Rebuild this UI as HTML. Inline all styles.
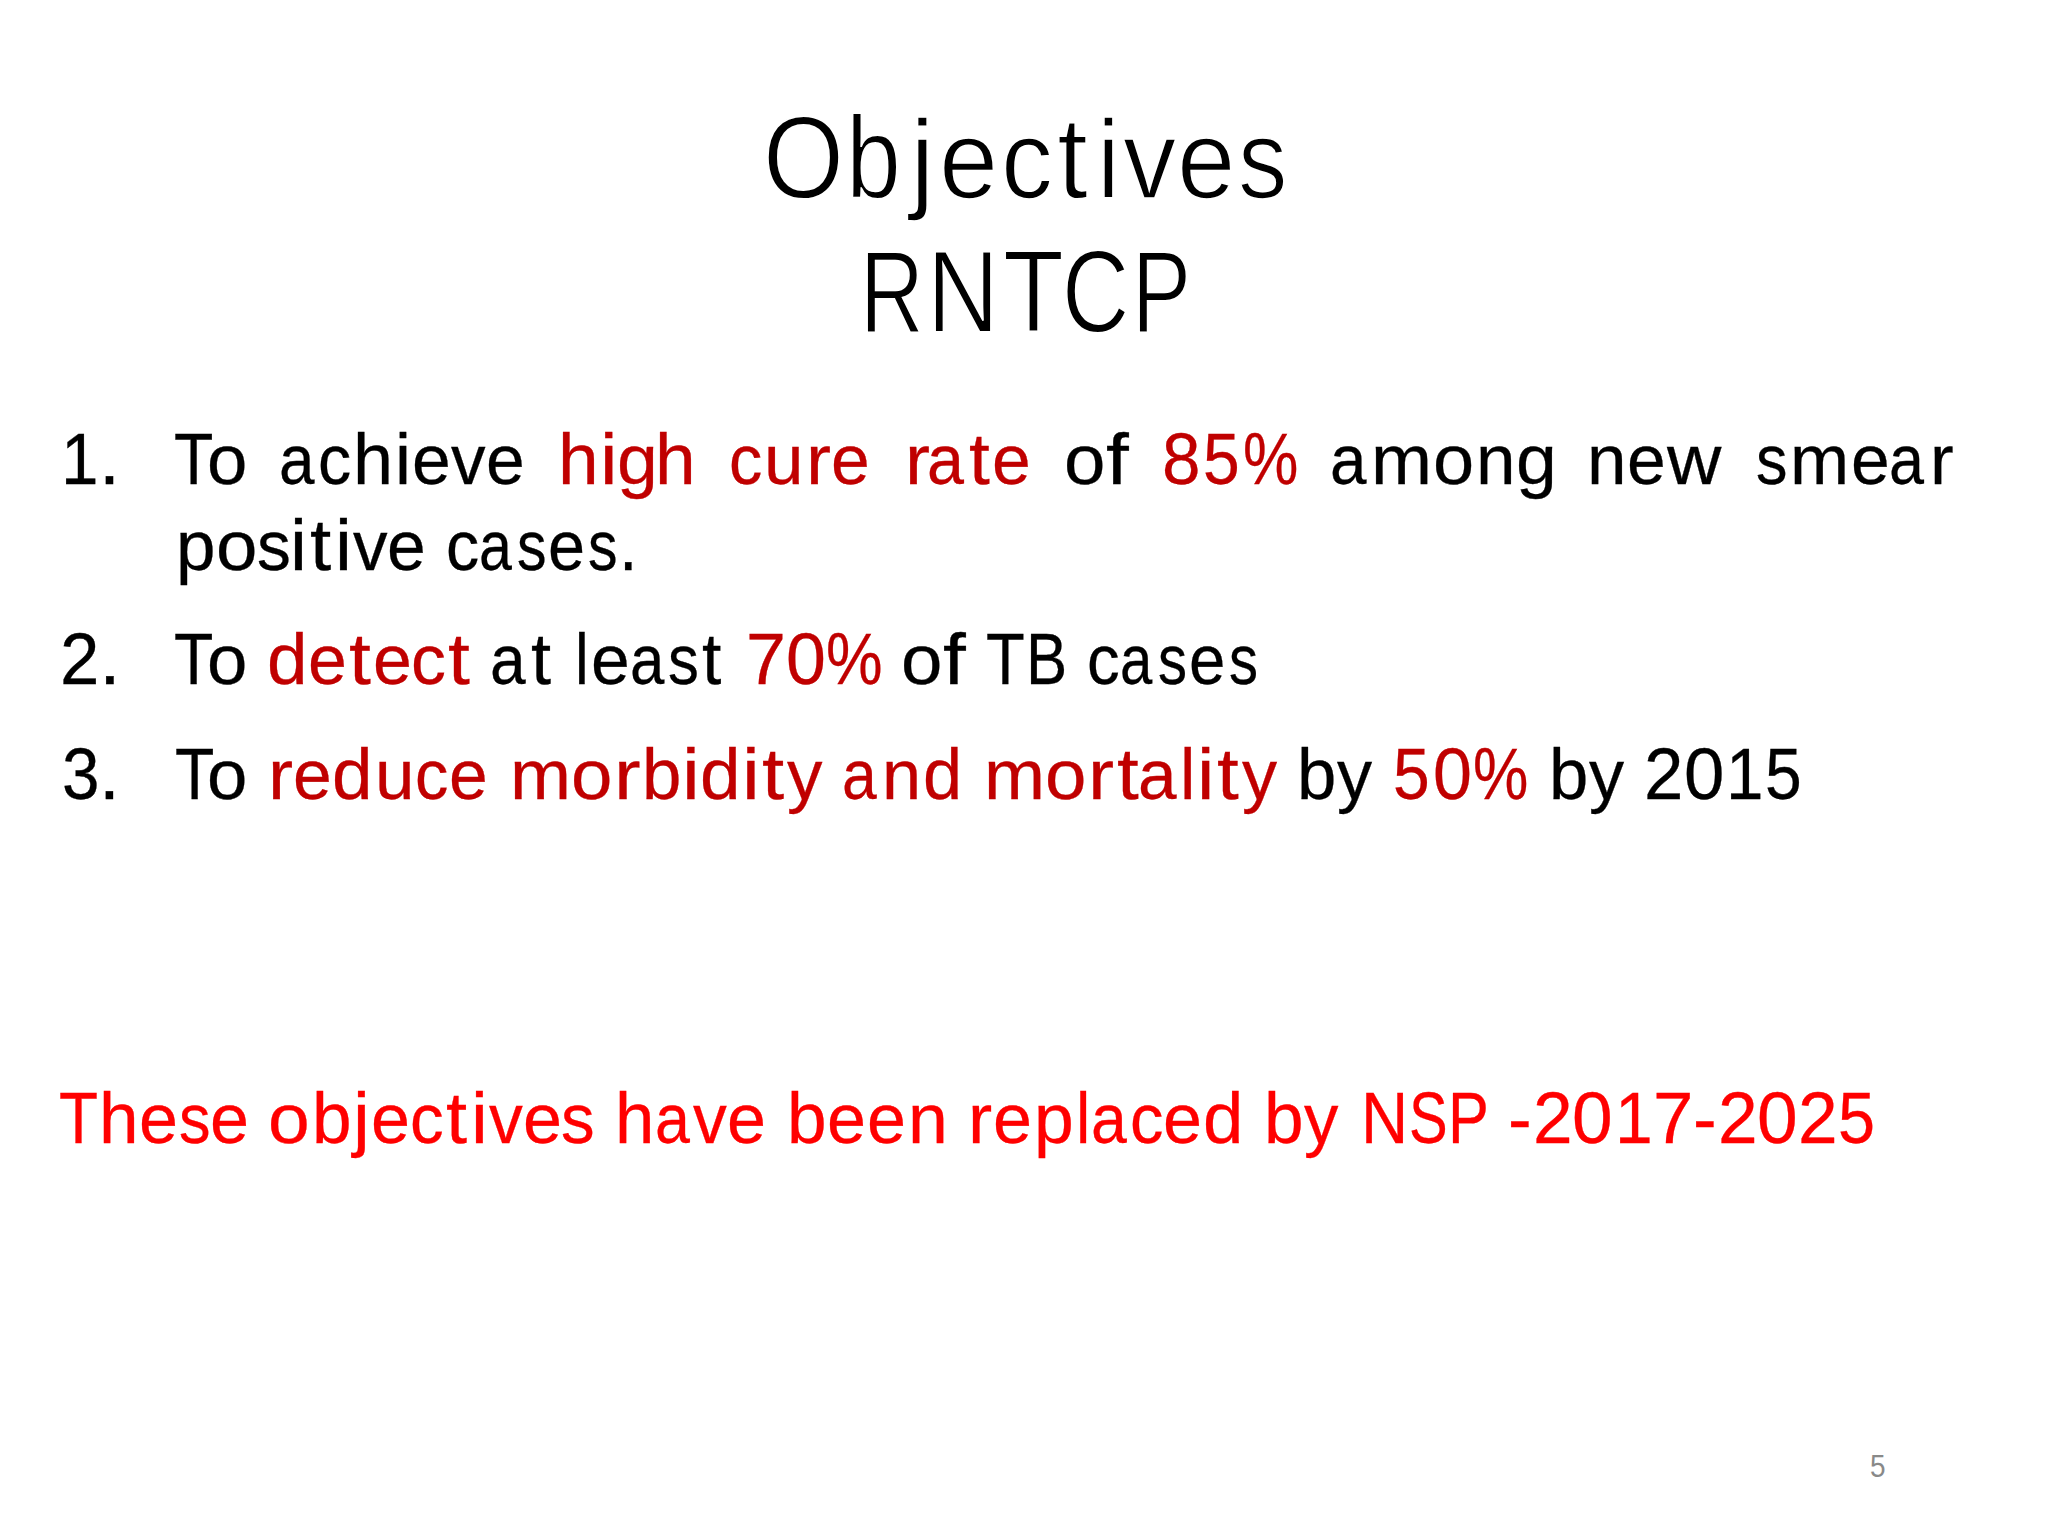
<!DOCTYPE html>
<html><head><meta charset="utf-8"><style>
html,body{margin:0;padding:0;background:#fff;width:2048px;height:1536px;overflow:hidden;}
body{position:relative;font-family:"Liberation Sans",sans-serif;}
span{position:absolute;white-space:pre;transform-origin:0 0;}
</style></head><body>
<span style="left:762.62px;top:99.79px;font-size:116px;line-height:116px;color:#000000;transform:scaleX(0.8974);-webkit-text-stroke:1.8px #fff;">O</span>
<span style="left:845.72px;top:99.79px;font-size:116px;line-height:116px;color:#000000;transform:scaleX(0.8517);-webkit-text-stroke:1.8px #fff;">b</span>
<span style="left:910.05px;top:99.79px;font-size:116px;line-height:116px;color:#000000;transform:scale(0.9605,0.9520);transform-origin:0 98.21px;-webkit-text-stroke:1.8px #fff;">j</span>
<span style="left:938.50px;top:99.79px;font-size:116px;line-height:116px;color:#000000;transform:scale(0.9170,0.9520);transform-origin:0 98.21px;-webkit-text-stroke:1.8px #fff;">e</span>
<span style="left:1000.62px;top:99.79px;font-size:116px;line-height:116px;color:#000000;transform:scale(0.8958,0.9520);transform-origin:0 98.21px;-webkit-text-stroke:1.8px #fff;">c</span>
<span style="left:1057.15px;top:99.79px;font-size:116px;line-height:116px;color:#000000;transform:scaleX(0.9605);-webkit-text-stroke:1.8px #fff;">t</span>
<span style="left:1097.49px;top:99.79px;font-size:116px;line-height:116px;color:#000000;transform:scale(0.8889,0.9520);transform-origin:0 98.21px;-webkit-text-stroke:1.8px #fff;">i</span>
<span style="left:1123.17px;top:99.79px;font-size:116px;line-height:116px;color:#000000;transform:scale(0.9167,0.9520);transform-origin:0 98.21px;-webkit-text-stroke:1.8px #fff;">v</span>
<span style="left:1176.57px;top:99.79px;font-size:116px;line-height:116px;color:#000000;transform:scale(0.9057,0.9520);transform-origin:0 98.21px;-webkit-text-stroke:1.8px #fff;">e</span>
<span style="left:1237.58px;top:99.79px;font-size:116px;line-height:116px;color:#000000;transform:scale(0.8517,0.9520);transform-origin:0 98.21px;-webkit-text-stroke:1.8px #fff;">s</span>
<span style="left:859.72px;top:234.19px;font-size:116px;line-height:116px;color:#000000;transform:scaleX(0.7623);-webkit-text-stroke:1.8px #fff;">R</span>
<span style="left:926.89px;top:234.19px;font-size:116px;line-height:116px;color:#000000;transform:scaleX(0.8597);-webkit-text-stroke:1.8px #fff;">N</span>
<span style="left:1002.73px;top:234.19px;font-size:116px;line-height:116px;color:#000000;transform:scaleX(0.8597);-webkit-text-stroke:1.8px #fff;">T</span>
<span style="left:1062.38px;top:234.19px;font-size:116px;line-height:116px;color:#000000;transform:scaleX(0.8028);-webkit-text-stroke:1.8px #fff;">C</span>
<span style="left:1131.67px;top:234.19px;font-size:116px;line-height:116px;color:#000000;transform:scaleX(0.7623);-webkit-text-stroke:1.8px #fff;">P</span>
<span style="left:61.34px;top:422.62px;font-size:72.5px;line-height:72.5px;color:#000000;transform:scaleX(0.9293);-webkit-text-stroke:0.3px currentColor;">1</span>
<span style="left:98.83px;top:422.62px;font-size:72.5px;line-height:72.5px;color:#000000;transform:scaleX(1.0412);-webkit-text-stroke:0.3px currentColor;">.</span>
<span style="left:174.35px;top:422.62px;font-size:72.5px;line-height:72.5px;color:#000000;transform:scaleX(0.8875);-webkit-text-stroke:0.3px currentColor;">T</span>
<span style="left:206.50px;top:422.62px;font-size:72.5px;line-height:72.5px;color:#000000;transform:scale(1.0008,0.9700);transform-origin:0 61.38px;-webkit-text-stroke:0.3px currentColor;">o</span>
<span style="left:279.26px;top:422.62px;font-size:72.5px;line-height:72.5px;color:#000000;transform:scale(0.8809,0.9700);transform-origin:0 61.38px;-webkit-text-stroke:0.3px currentColor;">a</span>
<span style="left:318.35px;top:422.62px;font-size:72.5px;line-height:72.5px;color:#000000;transform:scale(0.9148,0.9700);transform-origin:0 61.38px;-webkit-text-stroke:0.3px currentColor;">c</span>
<span style="left:352.70px;top:422.62px;font-size:72.5px;line-height:72.5px;color:#000000;transform:scaleX(0.9933);-webkit-text-stroke:0.3px currentColor;">h</span>
<span style="left:394.61px;top:422.62px;font-size:72.5px;line-height:72.5px;color:#000000;transform:scaleX(0.9933);-webkit-text-stroke:0.3px currentColor;">i</span>
<span style="left:411.72px;top:422.62px;font-size:72.5px;line-height:72.5px;color:#000000;transform:scale(0.9613,0.9700);transform-origin:0 61.38px;-webkit-text-stroke:0.3px currentColor;">e</span>
<span style="left:451.46px;top:422.62px;font-size:72.5px;line-height:72.5px;color:#000000;transform:scale(0.9528,0.9700);transform-origin:0 61.38px;-webkit-text-stroke:0.3px currentColor;">v</span>
<span style="left:485.74px;top:422.62px;font-size:72.5px;line-height:72.5px;color:#000000;transform:scale(0.9613,0.9700);transform-origin:0 61.38px;-webkit-text-stroke:0.3px currentColor;">e</span>
<span style="left:558.05px;top:422.62px;font-size:72.5px;line-height:72.5px;color:#c00000;transform:scaleX(1.0080);-webkit-text-stroke:0.3px currentColor;">h</span>
<span style="left:599.52px;top:422.62px;font-size:72.5px;line-height:72.5px;color:#c00000;transform:scaleX(1.0853);-webkit-text-stroke:0.3px currentColor;">i</span>
<span style="left:616.79px;top:422.62px;font-size:72.5px;line-height:72.5px;color:#c00000;transform:scale(1.0125,0.9700);transform-origin:0 61.38px;-webkit-text-stroke:0.3px currentColor;">g</span>
<span style="left:655.12px;top:422.62px;font-size:72.5px;line-height:72.5px;color:#c00000;transform:scaleX(1.0080);-webkit-text-stroke:0.3px currentColor;">h</span>
<span style="left:729.42px;top:422.62px;font-size:72.5px;line-height:72.5px;color:#c00000;transform:scale(0.9183,0.9700);transform-origin:0 61.38px;-webkit-text-stroke:0.3px currentColor;">c</span>
<span style="left:763.96px;top:422.62px;font-size:72.5px;line-height:72.5px;color:#c00000;transform:scale(0.9801,0.9700);transform-origin:0 61.38px;-webkit-text-stroke:0.3px currentColor;">u</span>
<span style="left:806.25px;top:422.62px;font-size:72.5px;line-height:72.5px;color:#c00000;transform:scale(1.0356,0.9700);transform-origin:0 61.38px;-webkit-text-stroke:0.3px currentColor;">r</span>
<span style="left:831.24px;top:422.62px;font-size:72.5px;line-height:72.5px;color:#c00000;transform:scale(0.9613,0.9700);transform-origin:0 61.38px;-webkit-text-stroke:0.3px currentColor;">e</span>
<span style="left:904.87px;top:422.62px;font-size:72.5px;line-height:72.5px;color:#c00000;transform:scale(1.0340,0.9700);transform-origin:0 61.38px;-webkit-text-stroke:0.3px currentColor;">r</span>
<span style="left:927.23px;top:422.62px;font-size:72.5px;line-height:72.5px;color:#c00000;transform:scale(0.9170,0.9700);transform-origin:0 61.38px;-webkit-text-stroke:0.3px currentColor;">a</span>
<span style="left:968.82px;top:422.62px;font-size:72.5px;line-height:72.5px;color:#c00000;transform:scaleX(1.0340);-webkit-text-stroke:0.3px currentColor;">t</span>
<span style="left:992.15px;top:422.62px;font-size:72.5px;line-height:72.5px;color:#c00000;transform:scale(0.9613,0.9700);transform-origin:0 61.38px;-webkit-text-stroke:0.3px currentColor;">e</span>
<span style="left:1064.17px;top:422.62px;font-size:72.5px;line-height:72.5px;color:#000000;transform:scale(1.0276,0.9700);transform-origin:0 61.38px;-webkit-text-stroke:0.3px currentColor;">o</span>
<span style="left:1105.96px;top:422.62px;font-size:72.5px;line-height:72.5px;color:#000000;transform:scaleX(1.1306);-webkit-text-stroke:0.3px currentColor;">f</span>
<span style="left:1162.23px;top:422.62px;font-size:72.5px;line-height:72.5px;color:#c00000;transform:scaleX(0.9554);-webkit-text-stroke:0.3px currentColor;">8</span>
<span style="left:1202.75px;top:422.62px;font-size:72.5px;line-height:72.5px;color:#c00000;transform:scaleX(0.9104);-webkit-text-stroke:0.3px currentColor;">5</span>
<span style="left:1242.86px;top:422.62px;font-size:72.5px;line-height:72.5px;color:#c00000;transform:scaleX(0.8585);-webkit-text-stroke:0.3px currentColor;">%</span>
<span style="left:1329.87px;top:422.62px;font-size:72.5px;line-height:72.5px;color:#000000;transform:scale(0.9057,0.9700);transform-origin:0 61.38px;-webkit-text-stroke:0.3px currentColor;">a</span>
<span style="left:1371.22px;top:422.62px;font-size:72.5px;line-height:72.5px;color:#000000;transform:scale(1.0099,0.9700);transform-origin:0 61.38px;-webkit-text-stroke:0.3px currentColor;">m</span>
<span style="left:1432.79px;top:422.62px;font-size:72.5px;line-height:72.5px;color:#000000;transform:scale(1.0214,0.9700);transform-origin:0 61.38px;-webkit-text-stroke:0.3px currentColor;">o</span>
<span style="left:1476.11px;top:422.62px;font-size:72.5px;line-height:72.5px;color:#000000;transform:scale(0.9801,0.9700);transform-origin:0 61.38px;-webkit-text-stroke:0.3px currentColor;">n</span>
<span style="left:1515.66px;top:422.62px;font-size:72.5px;line-height:72.5px;color:#000000;transform:scale(1.0125,0.9700);transform-origin:0 61.38px;-webkit-text-stroke:0.3px currentColor;">g</span>
<span style="left:1587.07px;top:422.62px;font-size:72.5px;line-height:72.5px;color:#000000;transform:scale(0.9801,0.9700);transform-origin:0 61.38px;-webkit-text-stroke:0.3px currentColor;">n</span>
<span style="left:1627.20px;top:422.62px;font-size:72.5px;line-height:72.5px;color:#000000;transform:scale(0.9613,0.9700);transform-origin:0 61.38px;-webkit-text-stroke:0.3px currentColor;">e</span>
<span style="left:1667.02px;top:422.62px;font-size:72.5px;line-height:72.5px;color:#000000;transform:scale(1.0376,0.9700);transform-origin:0 61.38px;-webkit-text-stroke:0.3px currentColor;">w</span>
<span style="left:1756.20px;top:422.62px;font-size:72.5px;line-height:72.5px;color:#000000;transform:scale(0.8683,0.9700);transform-origin:0 61.38px;-webkit-text-stroke:0.3px currentColor;">s</span>
<span style="left:1789.87px;top:422.62px;font-size:72.5px;line-height:72.5px;color:#000000;transform:scale(0.9792,0.9700);transform-origin:0 61.38px;-webkit-text-stroke:0.3px currentColor;">m</span>
<span style="left:1850.58px;top:422.62px;font-size:72.5px;line-height:72.5px;color:#000000;transform:scale(0.9613,0.9700);transform-origin:0 61.38px;-webkit-text-stroke:0.3px currentColor;">e</span>
<span style="left:1889.02px;top:422.62px;font-size:72.5px;line-height:72.5px;color:#000000;transform:scale(0.8683,0.9700);transform-origin:0 61.38px;-webkit-text-stroke:0.3px currentColor;">a</span>
<span style="left:1930.25px;top:422.62px;font-size:72.5px;line-height:72.5px;color:#000000;transform:scale(0.9792,0.9700);transform-origin:0 61.38px;-webkit-text-stroke:0.3px currentColor;">r</span>
<span style="left:176.42px;top:508.92px;font-size:72.5px;line-height:72.5px;color:#000000;transform:scale(0.9793,0.9700);transform-origin:0 61.38px;-webkit-text-stroke:0.3px currentColor;">p</span>
<span style="left:216.31px;top:508.92px;font-size:72.5px;line-height:72.5px;color:#000000;transform:scale(1.0276,0.9700);transform-origin:0 61.38px;-webkit-text-stroke:0.3px currentColor;">o</span>
<span style="left:256.95px;top:508.92px;font-size:72.5px;line-height:72.5px;color:#000000;transform:scale(0.9343,0.9700);transform-origin:0 61.38px;-webkit-text-stroke:0.3px currentColor;">s</span>
<span style="left:289.84px;top:508.92px;font-size:72.5px;line-height:72.5px;color:#000000;transform:scaleX(1.0535);-webkit-text-stroke:0.3px currentColor;">i</span>
<span style="left:309.58px;top:508.92px;font-size:72.5px;line-height:72.5px;color:#000000;transform:scaleX(1.0535);-webkit-text-stroke:0.3px currentColor;">t</span>
<span style="left:334.54px;top:508.92px;font-size:72.5px;line-height:72.5px;color:#000000;transform:scaleX(1.0535);-webkit-text-stroke:0.3px currentColor;">i</span>
<span style="left:352.85px;top:508.92px;font-size:72.5px;line-height:72.5px;color:#000000;transform:scale(0.9528,0.9700);transform-origin:0 61.38px;-webkit-text-stroke:0.3px currentColor;">v</span>
<span style="left:387.13px;top:508.92px;font-size:72.5px;line-height:72.5px;color:#000000;transform:scale(0.9613,0.9700);transform-origin:0 61.38px;-webkit-text-stroke:0.3px currentColor;">e</span>
<span style="left:445.66px;top:508.92px;font-size:72.5px;line-height:72.5px;color:#000000;transform:scale(0.9148,0.9700);transform-origin:0 61.38px;-webkit-text-stroke:0.3px currentColor;">c</span>
<span style="left:478.79px;top:508.92px;font-size:72.5px;line-height:72.5px;color:#000000;transform:scale(0.8151,0.9700);transform-origin:0 61.38px;-webkit-text-stroke:0.3px currentColor;">a</span>
<span style="left:517.34px;top:508.92px;font-size:72.5px;line-height:72.5px;color:#000000;transform:scale(0.8151,0.9700);transform-origin:0 61.38px;-webkit-text-stroke:0.3px currentColor;">s</span>
<span style="left:548.36px;top:508.92px;font-size:72.5px;line-height:72.5px;color:#000000;transform:scale(0.9192,0.9700);transform-origin:0 61.38px;-webkit-text-stroke:0.3px currentColor;">e</span>
<span style="left:587.72px;top:508.92px;font-size:72.5px;line-height:72.5px;color:#000000;transform:scale(0.8151,0.9700);transform-origin:0 61.38px;-webkit-text-stroke:0.3px currentColor;">s</span>
<span style="left:618.63px;top:508.92px;font-size:72.5px;line-height:72.5px;color:#000000;transform:scaleX(0.9192);-webkit-text-stroke:0.3px currentColor;">.</span>
<span style="left:60.41px;top:623.42px;font-size:72.5px;line-height:72.5px;color:#000000;transform:scaleX(0.9770);-webkit-text-stroke:0.3px currentColor;">2</span>
<span style="left:99.09px;top:623.42px;font-size:72.5px;line-height:72.5px;color:#000000;transform:scaleX(1.0795);-webkit-text-stroke:0.3px currentColor;">.</span>
<span style="left:174.35px;top:623.42px;font-size:72.5px;line-height:72.5px;color:#000000;transform:scaleX(0.8875);-webkit-text-stroke:0.3px currentColor;">T</span>
<span style="left:206.50px;top:623.42px;font-size:72.5px;line-height:72.5px;color:#000000;transform:scale(1.0008,0.9700);transform-origin:0 61.38px;-webkit-text-stroke:0.3px currentColor;">o</span>
<span style="left:266.51px;top:623.42px;font-size:72.5px;line-height:72.5px;color:#c00000;transform:scaleX(1.0055);-webkit-text-stroke:0.3px currentColor;">d</span>
<span style="left:308.24px;top:623.42px;font-size:72.5px;line-height:72.5px;color:#c00000;transform:scale(0.9638,0.9700);transform-origin:0 61.38px;-webkit-text-stroke:0.3px currentColor;">e</span>
<span style="left:349.07px;top:623.42px;font-size:72.5px;line-height:72.5px;color:#c00000;transform:scaleX(1.0869);-webkit-text-stroke:0.3px currentColor;">t</span>
<span style="left:372.90px;top:623.42px;font-size:72.5px;line-height:72.5px;color:#c00000;transform:scale(0.9638,0.9700);transform-origin:0 61.38px;-webkit-text-stroke:0.3px currentColor;">e</span>
<span style="left:411.34px;top:623.42px;font-size:72.5px;line-height:72.5px;color:#c00000;transform:scale(0.9638,0.9700);transform-origin:0 61.38px;-webkit-text-stroke:0.3px currentColor;">c</span>
<span style="left:447.65px;top:623.42px;font-size:72.5px;line-height:72.5px;color:#c00000;transform:scaleX(1.0869);-webkit-text-stroke:0.3px currentColor;">t</span>
<span style="left:489.90px;top:623.42px;font-size:72.5px;line-height:72.5px;color:#000000;transform:scale(0.8846,0.9700);transform-origin:0 61.38px;-webkit-text-stroke:0.3px currentColor;">a</span>
<span style="left:531.16px;top:623.42px;font-size:72.5px;line-height:72.5px;color:#000000;transform:scaleX(0.9975);-webkit-text-stroke:0.3px currentColor;">t</span>
<span style="left:575.06px;top:623.42px;font-size:72.5px;line-height:72.5px;color:#000000;transform:scaleX(0.8523);-webkit-text-stroke:0.3px currentColor;">l</span>
<span style="left:590.98px;top:623.42px;font-size:72.5px;line-height:72.5px;color:#000000;transform:scale(0.9611,0.9700);transform-origin:0 61.38px;-webkit-text-stroke:0.3px currentColor;">e</span>
<span style="left:629.77px;top:623.42px;font-size:72.5px;line-height:72.5px;color:#000000;transform:scale(0.8523,0.9700);transform-origin:0 61.38px;-webkit-text-stroke:0.3px currentColor;">a</span>
<span style="left:668.47px;top:623.42px;font-size:72.5px;line-height:72.5px;color:#000000;transform:scale(0.8523,0.9700);transform-origin:0 61.38px;-webkit-text-stroke:0.3px currentColor;">s</span>
<span style="left:701.53px;top:623.42px;font-size:72.5px;line-height:72.5px;color:#000000;transform:scaleX(0.9611);-webkit-text-stroke:0.3px currentColor;">t</span>
<span style="left:746.38px;top:623.42px;font-size:72.5px;line-height:72.5px;color:#c00000;transform:scaleX(0.9895);-webkit-text-stroke:0.3px currentColor;">7</span>
<span style="left:785.90px;top:623.42px;font-size:72.5px;line-height:72.5px;color:#c00000;transform:scaleX(0.9895);-webkit-text-stroke:0.3px currentColor;">0</span>
<span style="left:825.99px;top:623.42px;font-size:72.5px;line-height:72.5px;color:#c00000;transform:scaleX(0.8775);-webkit-text-stroke:0.3px currentColor;">%</span>
<span style="left:901.17px;top:623.42px;font-size:72.5px;line-height:72.5px;color:#000000;transform:scale(1.0276,0.9700);transform-origin:0 61.38px;-webkit-text-stroke:0.3px currentColor;">o</span>
<span style="left:942.96px;top:623.42px;font-size:72.5px;line-height:72.5px;color:#000000;transform:scaleX(1.1306);-webkit-text-stroke:0.3px currentColor;">f</span>
<span style="left:985.95px;top:623.42px;font-size:72.5px;line-height:72.5px;color:#000000;transform:scaleX(0.8747);-webkit-text-stroke:0.3px currentColor;">T</span>
<span style="left:1025.80px;top:623.42px;font-size:72.5px;line-height:72.5px;color:#000000;transform:scaleX(0.8527);-webkit-text-stroke:0.3px currentColor;">B</span>
<span style="left:1086.59px;top:623.42px;font-size:72.5px;line-height:72.5px;color:#000000;transform:scale(0.9028,0.9700);transform-origin:0 61.38px;-webkit-text-stroke:0.3px currentColor;">c</span>
<span style="left:1119.81px;top:623.42px;font-size:72.5px;line-height:72.5px;color:#000000;transform:scale(0.8006,0.9700);transform-origin:0 61.38px;-webkit-text-stroke:0.3px currentColor;">a</span>
<span style="left:1158.30px;top:623.42px;font-size:72.5px;line-height:72.5px;color:#000000;transform:scale(0.8006,0.9700);transform-origin:0 61.38px;-webkit-text-stroke:0.3px currentColor;">s</span>
<span style="left:1189.40px;top:623.42px;font-size:72.5px;line-height:72.5px;color:#000000;transform:scale(0.9028,0.9700);transform-origin:0 61.38px;-webkit-text-stroke:0.3px currentColor;">e</span>
<span style="left:1228.68px;top:623.42px;font-size:72.5px;line-height:72.5px;color:#000000;transform:scale(0.8006,0.9700);transform-origin:0 61.38px;-webkit-text-stroke:0.3px currentColor;">s</span>
<span style="left:61.54px;top:737.62px;font-size:72.5px;line-height:72.5px;color:#000000;transform:scaleX(0.9292);-webkit-text-stroke:0.3px currentColor;">3</span>
<span style="left:99.46px;top:737.62px;font-size:72.5px;line-height:72.5px;color:#000000;transform:scaleX(1.0360);-webkit-text-stroke:0.3px currentColor;">.</span>
<span style="left:174.60px;top:737.62px;font-size:72.5px;line-height:72.5px;color:#000000;transform:scaleX(0.8875);-webkit-text-stroke:0.3px currentColor;">T</span>
<span style="left:206.75px;top:737.62px;font-size:72.5px;line-height:72.5px;color:#000000;transform:scale(1.0008,0.9700);transform-origin:0 61.38px;-webkit-text-stroke:0.3px currentColor;">o</span>
<span style="left:267.91px;top:737.62px;font-size:72.5px;line-height:72.5px;color:#c00000;transform:scale(1.0378,0.9700);transform-origin:0 61.38px;-webkit-text-stroke:0.3px currentColor;">r</span>
<span style="left:292.94px;top:737.62px;font-size:72.5px;line-height:72.5px;color:#c00000;transform:scale(0.9613,0.9700);transform-origin:0 61.38px;-webkit-text-stroke:0.3px currentColor;">e</span>
<span style="left:332.17px;top:737.62px;font-size:72.5px;line-height:72.5px;color:#c00000;transform:scaleX(1.0055);-webkit-text-stroke:0.3px currentColor;">d</span>
<span style="left:374.85px;top:737.62px;font-size:72.5px;line-height:72.5px;color:#c00000;transform:scale(0.9801,0.9700);transform-origin:0 61.38px;-webkit-text-stroke:0.3px currentColor;">u</span>
<span style="left:415.37px;top:737.62px;font-size:72.5px;line-height:72.5px;color:#c00000;transform:scale(0.9203,0.9700);transform-origin:0 61.38px;-webkit-text-stroke:0.3px currentColor;">c</span>
<span style="left:449.05px;top:737.62px;font-size:72.5px;line-height:72.5px;color:#c00000;transform:scale(0.9613,0.9700);transform-origin:0 61.38px;-webkit-text-stroke:0.3px currentColor;">e</span>
<span style="left:509.58px;top:737.62px;font-size:72.5px;line-height:72.5px;color:#c00000;transform:scale(1.0099,0.9700);transform-origin:0 61.38px;-webkit-text-stroke:0.3px currentColor;">m</span>
<span style="left:571.02px;top:737.62px;font-size:72.5px;line-height:72.5px;color:#c00000;transform:scale(1.0276,0.9700);transform-origin:0 61.38px;-webkit-text-stroke:0.3px currentColor;">o</span>
<span style="left:613.65px;top:737.62px;font-size:72.5px;line-height:72.5px;color:#c00000;transform:scale(1.1019,0.9700);transform-origin:0 61.38px;-webkit-text-stroke:0.3px currentColor;">r</span>
<span style="left:642.21px;top:737.62px;font-size:72.5px;line-height:72.5px;color:#c00000;transform:scaleX(0.9772);-webkit-text-stroke:0.3px currentColor;">b</span>
<span style="left:682.40px;top:737.62px;font-size:72.5px;line-height:72.5px;color:#c00000;transform:scaleX(1.1019);-webkit-text-stroke:0.3px currentColor;">i</span>
<span style="left:700.21px;top:737.62px;font-size:72.5px;line-height:72.5px;color:#c00000;transform:scaleX(1.0055);-webkit-text-stroke:0.3px currentColor;">d</span>
<span style="left:742.19px;top:737.62px;font-size:72.5px;line-height:72.5px;color:#c00000;transform:scaleX(1.1019);-webkit-text-stroke:0.3px currentColor;">i</span>
<span style="left:761.80px;top:737.62px;font-size:72.5px;line-height:72.5px;color:#c00000;transform:scaleX(1.1019);-webkit-text-stroke:0.3px currentColor;">t</span>
<span style="left:786.95px;top:737.62px;font-size:72.5px;line-height:72.5px;color:#c00000;transform:scale(0.9772,0.9700);transform-origin:0 61.38px;-webkit-text-stroke:0.3px currentColor;">y</span>
<span style="left:841.79px;top:737.62px;font-size:72.5px;line-height:72.5px;color:#c00000;transform:scale(0.8611,0.9700);transform-origin:0 61.38px;-webkit-text-stroke:0.3px currentColor;">a</span>
<span style="left:882.19px;top:737.62px;font-size:72.5px;line-height:72.5px;color:#c00000;transform:scale(0.9711,0.9700);transform-origin:0 61.38px;-webkit-text-stroke:0.3px currentColor;">n</span>
<span style="left:922.64px;top:737.62px;font-size:72.5px;line-height:72.5px;color:#c00000;transform:scaleX(0.9711);-webkit-text-stroke:0.3px currentColor;">d</span>
<span style="left:983.89px;top:737.62px;font-size:72.5px;line-height:72.5px;color:#c00000;transform:scale(1.0099,0.9700);transform-origin:0 61.38px;-webkit-text-stroke:0.3px currentColor;">m</span>
<span style="left:1045.33px;top:737.62px;font-size:72.5px;line-height:72.5px;color:#c00000;transform:scale(1.0276,0.9700);transform-origin:0 61.38px;-webkit-text-stroke:0.3px currentColor;">o</span>
<span style="left:1088.27px;top:737.62px;font-size:72.5px;line-height:72.5px;color:#c00000;transform:scale(1.0789,0.9700);transform-origin:0 61.38px;-webkit-text-stroke:0.3px currentColor;">r</span>
<span style="left:1116.78px;top:737.62px;font-size:72.5px;line-height:72.5px;color:#c00000;transform:scaleX(1.0789);-webkit-text-stroke:0.3px currentColor;">t</span>
<span style="left:1137.56px;top:737.62px;font-size:72.5px;line-height:72.5px;color:#c00000;transform:scale(0.9568,0.9700);transform-origin:0 61.38px;-webkit-text-stroke:0.3px currentColor;">a</span>
<span style="left:1179.82px;top:737.62px;font-size:72.5px;line-height:72.5px;color:#c00000;transform:scaleX(0.9568);-webkit-text-stroke:0.3px currentColor;">l</span>
<span style="left:1196.96px;top:737.62px;font-size:72.5px;line-height:72.5px;color:#c00000;transform:scaleX(1.0789);-webkit-text-stroke:0.3px currentColor;">i</span>
<span style="left:1216.63px;top:737.62px;font-size:72.5px;line-height:72.5px;color:#c00000;transform:scaleX(1.0789);-webkit-text-stroke:0.3px currentColor;">t</span>
<span style="left:1241.69px;top:737.62px;font-size:72.5px;line-height:72.5px;color:#c00000;transform:scale(0.9689,0.9700);transform-origin:0 61.38px;-webkit-text-stroke:0.3px currentColor;">y</span>
<span style="left:1297.41px;top:737.62px;font-size:72.5px;line-height:72.5px;color:#000000;transform:scaleX(0.9759);-webkit-text-stroke:0.3px currentColor;">b</span>
<span style="left:1337.40px;top:737.62px;font-size:72.5px;line-height:72.5px;color:#000000;transform:scale(0.9689,0.9700);transform-origin:0 61.38px;-webkit-text-stroke:0.3px currentColor;">y</span>
<span style="left:1393.14px;top:737.62px;font-size:72.5px;line-height:72.5px;color:#c00000;transform:scaleX(0.9104);-webkit-text-stroke:0.3px currentColor;">5</span>
<span style="left:1433.17px;top:737.62px;font-size:72.5px;line-height:72.5px;color:#c00000;transform:scaleX(0.9663);-webkit-text-stroke:0.3px currentColor;">0</span>
<span style="left:1473.40px;top:737.62px;font-size:72.5px;line-height:72.5px;color:#c00000;transform:scaleX(0.8585);-webkit-text-stroke:0.3px currentColor;">%</span>
<span style="left:1548.91px;top:737.62px;font-size:72.5px;line-height:72.5px;color:#000000;transform:scaleX(0.9759);-webkit-text-stroke:0.3px currentColor;">b</span>
<span style="left:1588.90px;top:737.62px;font-size:72.5px;line-height:72.5px;color:#000000;transform:scale(0.9689,0.9700);transform-origin:0 61.38px;-webkit-text-stroke:0.3px currentColor;">y</span>
<span style="left:1644.40px;top:737.62px;font-size:72.5px;line-height:72.5px;color:#000000;transform:scaleX(0.9770);-webkit-text-stroke:0.3px currentColor;">2</span>
<span style="left:1683.97px;top:737.62px;font-size:72.5px;line-height:72.5px;color:#000000;transform:scaleX(1.0012);-webkit-text-stroke:0.3px currentColor;">0</span>
<span style="left:1726.26px;top:737.62px;font-size:72.5px;line-height:72.5px;color:#000000;transform:scaleX(0.9293);-webkit-text-stroke:0.3px currentColor;">1</span>
<span style="left:1765.07px;top:737.62px;font-size:72.5px;line-height:72.5px;color:#000000;transform:scaleX(0.9104);-webkit-text-stroke:0.3px currentColor;">5</span>
<span style="left:59.07px;top:1080.79px;font-size:73.0px;line-height:73.0px;color:#ff0000;transform:scaleX(0.8747);-webkit-text-stroke:0.3px currentColor;">T</span>
<span style="left:98.79px;top:1080.79px;font-size:73.0px;line-height:73.0px;color:#ff0000;transform:scaleX(0.9744);-webkit-text-stroke:0.3px currentColor;">h</span>
<span style="left:139.24px;top:1080.79px;font-size:73.0px;line-height:73.0px;color:#ff0000;transform:scale(0.9613,0.9700);transform-origin:0 61.81px;-webkit-text-stroke:0.3px currentColor;">e</span>
<span style="left:178.58px;top:1080.79px;font-size:73.0px;line-height:73.0px;color:#ff0000;transform:scale(0.8641,0.9700);transform-origin:0 61.81px;-webkit-text-stroke:0.3px currentColor;">s</span>
<span style="left:209.62px;top:1080.79px;font-size:73.0px;line-height:73.0px;color:#ff0000;transform:scale(0.9613,0.9700);transform-origin:0 61.81px;-webkit-text-stroke:0.3px currentColor;">e</span>
<span style="left:268.05px;top:1080.79px;font-size:73.0px;line-height:73.0px;color:#ff0000;transform:scale(1.0276,0.9700);transform-origin:0 61.81px;-webkit-text-stroke:0.3px currentColor;">o</span>
<span style="left:311.66px;top:1080.79px;font-size:73.0px;line-height:73.0px;color:#ff0000;transform:scaleX(0.9759);-webkit-text-stroke:0.3px currentColor;">b</span>
<span style="left:352.61px;top:1080.79px;font-size:73.0px;line-height:73.0px;color:#ff0000;transform:scaleX(1.0398);-webkit-text-stroke:0.3px currentColor;">j</span>
<span style="left:370.57px;top:1080.79px;font-size:73.0px;line-height:73.0px;color:#ff0000;transform:scale(0.9613,0.9700);transform-origin:0 61.81px;-webkit-text-stroke:0.3px currentColor;">e</span>
<span style="left:409.75px;top:1080.79px;font-size:73.0px;line-height:73.0px;color:#ff0000;transform:scale(0.9221,0.9700);transform-origin:0 61.81px;-webkit-text-stroke:0.3px currentColor;">c</span>
<span style="left:445.76px;top:1080.79px;font-size:73.0px;line-height:73.0px;color:#ff0000;transform:scaleX(1.0398);-webkit-text-stroke:0.3px currentColor;">t</span>
<span style="left:470.69px;top:1080.79px;font-size:73.0px;line-height:73.0px;color:#ff0000;transform:scaleX(1.0398);-webkit-text-stroke:0.3px currentColor;">i</span>
<span style="left:488.89px;top:1080.79px;font-size:73.0px;line-height:73.0px;color:#ff0000;transform:scale(0.9271,0.9700);transform-origin:0 61.81px;-webkit-text-stroke:0.3px currentColor;">v</span>
<span style="left:523.17px;top:1080.79px;font-size:73.0px;line-height:73.0px;color:#ff0000;transform:scale(0.9613,0.9700);transform-origin:0 61.81px;-webkit-text-stroke:0.3px currentColor;">e</span>
<span style="left:561.47px;top:1080.79px;font-size:73.0px;line-height:73.0px;color:#ff0000;transform:scale(0.9221,0.9700);transform-origin:0 61.81px;-webkit-text-stroke:0.3px currentColor;">s</span>
<span style="left:615.37px;top:1080.79px;font-size:73.0px;line-height:73.0px;color:#ff0000;transform:scaleX(0.9699);-webkit-text-stroke:0.3px currentColor;">h</span>
<span style="left:654.94px;top:1080.79px;font-size:73.0px;line-height:73.0px;color:#ff0000;transform:scale(0.8601,0.9700);transform-origin:0 61.81px;-webkit-text-stroke:0.3px currentColor;">a</span>
<span style="left:693.06px;top:1080.79px;font-size:73.0px;line-height:73.0px;color:#ff0000;transform:scale(0.9271,0.9700);transform-origin:0 61.81px;-webkit-text-stroke:0.3px currentColor;">v</span>
<span style="left:727.34px;top:1080.79px;font-size:73.0px;line-height:73.0px;color:#ff0000;transform:scale(0.9613,0.9700);transform-origin:0 61.81px;-webkit-text-stroke:0.3px currentColor;">e</span>
<span style="left:787.28px;top:1080.79px;font-size:73.0px;line-height:73.0px;color:#ff0000;transform:scaleX(0.9759);-webkit-text-stroke:0.3px currentColor;">b</span>
<span style="left:827.24px;top:1080.79px;font-size:73.0px;line-height:73.0px;color:#ff0000;transform:scale(0.9613,0.9700);transform-origin:0 61.81px;-webkit-text-stroke:0.3px currentColor;">e</span>
<span style="left:866.65px;top:1080.79px;font-size:73.0px;line-height:73.0px;color:#ff0000;transform:scale(0.9613,0.9700);transform-origin:0 61.81px;-webkit-text-stroke:0.3px currentColor;">e</span>
<span style="left:907.53px;top:1080.79px;font-size:73.0px;line-height:73.0px;color:#ff0000;transform:scale(0.9801,0.9700);transform-origin:0 61.81px;-webkit-text-stroke:0.3px currentColor;">n</span>
<span style="left:967.78px;top:1080.79px;font-size:73.0px;line-height:73.0px;color:#ff0000;transform:scale(0.9953,0.9700);transform-origin:0 61.81px;-webkit-text-stroke:0.3px currentColor;">r</span>
<span style="left:992.73px;top:1080.79px;font-size:73.0px;line-height:73.0px;color:#ff0000;transform:scale(0.9613,0.9700);transform-origin:0 61.81px;-webkit-text-stroke:0.3px currentColor;">e</span>
<span style="left:1033.66px;top:1080.79px;font-size:73.0px;line-height:73.0px;color:#ff0000;transform:scale(0.9793,0.9700);transform-origin:0 61.81px;-webkit-text-stroke:0.3px currentColor;">p</span>
<span style="left:1075.76px;top:1080.79px;font-size:73.0px;line-height:73.0px;color:#ff0000;transform:scaleX(0.8826);-webkit-text-stroke:0.3px currentColor;">l</span>
<span style="left:1090.65px;top:1080.79px;font-size:73.0px;line-height:73.0px;color:#ff0000;transform:scale(0.8826,0.9700);transform-origin:0 61.81px;-webkit-text-stroke:0.3px currentColor;">a</span>
<span style="left:1129.77px;top:1080.79px;font-size:73.0px;line-height:73.0px;color:#ff0000;transform:scale(0.9148,0.9700);transform-origin:0 61.81px;-webkit-text-stroke:0.3px currentColor;">c</span>
<span style="left:1163.35px;top:1080.79px;font-size:73.0px;line-height:73.0px;color:#ff0000;transform:scale(0.9613,0.9700);transform-origin:0 61.81px;-webkit-text-stroke:0.3px currentColor;">e</span>
<span style="left:1202.79px;top:1080.79px;font-size:73.0px;line-height:73.0px;color:#ff0000;transform:scaleX(0.9953);-webkit-text-stroke:0.3px currentColor;">d</span>
<span style="left:1264.11px;top:1080.79px;font-size:73.0px;line-height:73.0px;color:#ff0000;transform:scaleX(0.9759);-webkit-text-stroke:0.3px currentColor;">b</span>
<span style="left:1304.10px;top:1080.79px;font-size:73.0px;line-height:73.0px;color:#ff0000;transform:scale(0.9428,0.9700);transform-origin:0 61.81px;-webkit-text-stroke:0.3px currentColor;">y</span>
<span style="left:1361.29px;top:1080.79px;font-size:73.0px;line-height:73.0px;color:#ff0000;transform:scaleX(0.8955);-webkit-text-stroke:0.3px currentColor;">N</span>
<span style="left:1409.00px;top:1080.79px;font-size:73.0px;line-height:73.0px;color:#ff0000;transform:scaleX(0.7941);-webkit-text-stroke:0.3px currentColor;">S</span>
<span style="left:1447.62px;top:1080.79px;font-size:73.0px;line-height:73.0px;color:#ff0000;transform:scaleX(0.8399);-webkit-text-stroke:0.3px currentColor;">P</span>
<span style="left:1507.81px;top:1080.79px;font-size:73.0px;line-height:73.0px;color:#ff0000;transform:scaleX(0.9729);-webkit-text-stroke:0.3px currentColor;">-</span>
<span style="left:1532.70px;top:1080.79px;font-size:73.0px;line-height:73.0px;color:#ff0000;transform:scaleX(0.9770);-webkit-text-stroke:0.3px currentColor;">2</span>
<span style="left:1572.26px;top:1080.79px;font-size:73.0px;line-height:73.0px;color:#ff0000;transform:scaleX(1.0012);-webkit-text-stroke:0.3px currentColor;">0</span>
<span style="left:1614.55px;top:1080.79px;font-size:73.0px;line-height:73.0px;color:#ff0000;transform:scaleX(0.9293);-webkit-text-stroke:0.3px currentColor;">1</span>
<span style="left:1653.31px;top:1080.79px;font-size:73.0px;line-height:73.0px;color:#ff0000;transform:scaleX(0.9941);-webkit-text-stroke:0.3px currentColor;">7</span>
<span style="left:1692.62px;top:1080.79px;font-size:73.0px;line-height:73.0px;color:#ff0000;transform:scaleX(0.9729);-webkit-text-stroke:0.3px currentColor;">-</span>
<span style="left:1717.51px;top:1080.79px;font-size:73.0px;line-height:73.0px;color:#ff0000;transform:scaleX(0.9770);-webkit-text-stroke:0.3px currentColor;">2</span>
<span style="left:1757.08px;top:1080.79px;font-size:73.0px;line-height:73.0px;color:#ff0000;transform:scaleX(1.0012);-webkit-text-stroke:0.3px currentColor;">0</span>
<span style="left:1797.80px;top:1080.79px;font-size:73.0px;line-height:73.0px;color:#ff0000;transform:scaleX(0.9770);-webkit-text-stroke:0.3px currentColor;">2</span>
<span style="left:1838.12px;top:1080.79px;font-size:73.0px;line-height:73.0px;color:#ff0000;transform:scaleX(0.9133);-webkit-text-stroke:0.3px currentColor;">5</span>
<span style="left:1870.12px;top:1449.91px;font-size:32px;line-height:32px;color:#898989;transform:scaleX(0.8750);">5</span>
</body></html>
